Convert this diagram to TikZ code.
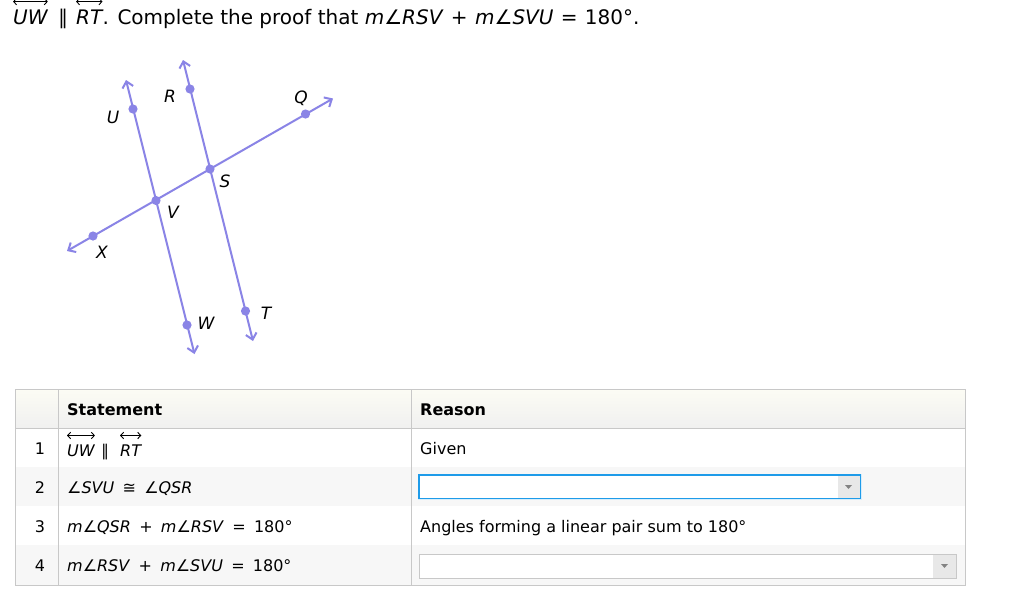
\documentclass[tikz,border=0pt]{standalone}
\usepackage{fontspec}
\setmainfont{DejaVu Sans}
\usetikzlibrary{arrows.meta}
\definecolor{geo}{RGB}{138,132,230}
\definecolor{tborder}{RGB}{200,200,200}
\definecolor{rowgray}{RGB}{247,247,247}
\definecolor{hdrtop}{RGB}{252,252,244}
\definecolor{hdrbot}{RGB}{240,240,240}
\definecolor{selblue}{RGB}{30,155,233}
\definecolor{btngray}{RGB}{232,232,232}
\definecolor{arrgray}{RGB}{130,130,130}
\newcommand{\xsp}{\hspace{0.2em}}
\newcommand{\tsp}{\hspace{0.05em}}
\tikzset{
  geoline/.style={geo, line width=2pt, line cap=round,
    {Straight Barb[length=6pt,width=11pt]}-{Straight Barb[length=6pt,width=11pt]}},
  overarr/.style={black, line width=0.9pt,
    {Straight Barb[length=3pt,width=6.5pt]}-{Straight Barb[length=3pt,width=6.5pt]}},
  lbl/.style={font=\fontsize{17}{20}\selectfont\itshape, inner sep=0pt},
  ttl/.style={font=\fontsize{20}{24}\selectfont, anchor=base west, inner sep=0pt},
  ttxt/.style={font=\fontsize{16}{19}\selectfont, anchor=base west, inner sep=0pt},
  tnum/.style={font=\fontsize{16}{19}\selectfont, anchor=base, inner sep=0pt},
  thdr/.style={font=\fontsize{16}{19}\selectfont\bfseries, anchor=base west, inner sep=0pt},
}
\begin{document}
\begin{tikzpicture}[x=1pt,y=-1pt]
\useasboundingbox[fill=white] (0,0) rectangle (1010,600);

% title
\node[ttl] (tUW) at (13,24) {\itshape UW};
\node[ttl, anchor=base] (tPar) at (63,24) {∥};
\node[ttl] (tRT) at (76,24) {\itshape RT};
\node[ttl] (tRest) at (tRT.base east) {. Complete the proof that \textit{m∠RSV}\tsp{} + \tsp\textit{m∠SVU}\tsp{} = \tsp{}180°.};
\coordinate (tarrow) at (0,1.6);
\draw[overarr] (tUW.west |- tarrow) -- (tUW.east |- tarrow);
\draw[overarr] (tRT.west |- tarrow) -- (tRT.east |- tarrow);

% geometry points
\coordinate (U) at (133,109);
\coordinate (V) at (156,200.5);
\coordinate (W) at (187,325);
\coordinate (Utip) at (126,80);
\coordinate (Wtip) at (194.5,354);
\coordinate (R) at (190,89);
\coordinate (S) at (210,169);
\coordinate (T) at (245.5,311);
\coordinate (Rtip) at (183,60);
\coordinate (Ttip) at (253,341);
\coordinate (X) at (93,236);
\coordinate (Q) at (305.5,114);
\coordinate (Xtip) at (67,251);
\coordinate (Qtip) at (333,98.5);

\draw[geoline] (Utip) -- (Wtip);
\draw[geoline] (Rtip) -- (Ttip);
\draw[geoline] (Xtip) -- (Qtip);
\foreach \p in {U,V,W,R,S,T,X,Q} \fill[geo] (\p) circle (4.6);

\node[lbl] (lU) at (113,117) {U};
\node[lbl] (lR) at (170,96) {R};
\node[lbl] (lQ) at (301,98) {Q};
\node[lbl] (lS) at (225,181) {S};
\node[lbl] (lV) at (173,212) {V};
\node[lbl] (lX) at (102,252) {X};
\node[lbl] (lW) at (206,323) {W};
\node[lbl] (lT) at (266,313) {T};

% table
\fill[rowgray] (15,467) rectangle (965,506);
\fill[rowgray] (15,545) rectangle (965,585);
\shade[top color=hdrtop, bottom color=hdrbot] (15,389) rectangle (965,428);
\draw[tborder, line width=1pt] (15,389) rectangle (965,585);
\draw[tborder, line width=1pt] (15,428) -- (965,428);
\draw[tborder, line width=1pt] (58,389) -- (58,585);
\draw[tborder, line width=1pt] (411,389) -- (411,585);

\node[thdr] (hS) at (67,415) {Statement};
\node[thdr] (hR) at (420,415) {Reason};

\node[tnum] (n1) at (40,454) {1};
\node[tnum] (n2) at (40,493) {2};
\node[tnum] (n3) at (40,532) {3};
\node[tnum] (n4) at (40,571) {4};

\node[ttxt] (s1a) at (67,456) {\itshape UW};
\node[tnum] (s1b) at (105,456) {∥};
\node[ttxt] (s1c) at (120,456) {\itshape RT};
\coordinate (rarrow) at (0,435.5);
\draw[overarr] (s1a.west |- rarrow) -- (s1a.east |- rarrow);
\draw[overarr] (s1c.west |- rarrow) -- (s1c.east |- rarrow);

\node[ttxt] (s2) at (67,493) {\itshape ∠SVU\xsp{} ≅ \xsp∠QSR};
\node[ttxt] (s3) at (67,532) {\textit{m∠QSR}\xsp{} + \xsp\textit{m∠RSV}\xsp{} = \xsp{}180°};
\node[ttxt] (s4) at (67,571) {\textit{m∠RSV}\xsp{} + \xsp\textit{m∠SVU}\xsp{} = \xsp{}180°};

\node[ttxt] (r1) at (420,454) {Given};
\node[ttxt] (r3) at (420,532) {Angles forming a linear pair sum to 180°};

% dropdown row 2 (focused)
\draw[selblue!18, line width=3pt] (419,475) rectangle (860.5,498.5);
\fill[white] (419,475) rectangle (860.5,498.5);
\fill[btngray] (838,475) rectangle (860.5,498.5);
\draw[selblue, line width=1.1pt] (419,475) rectangle (860.5,498.5);
\fill[arrgray] (845,485) -- (852,485) -- (848.5,489) -- cycle;

% dropdown row 4
\fill[white] (419,554) rectangle (956,578);
\fill[btngray] (933,554) rectangle (956,578);
\draw[tborder, line width=1pt] (419,554) rectangle (956,578);
\fill[arrgray] (941,564) -- (948,564) -- (944.5,568) -- cycle;
\end{tikzpicture}
\end{document}
